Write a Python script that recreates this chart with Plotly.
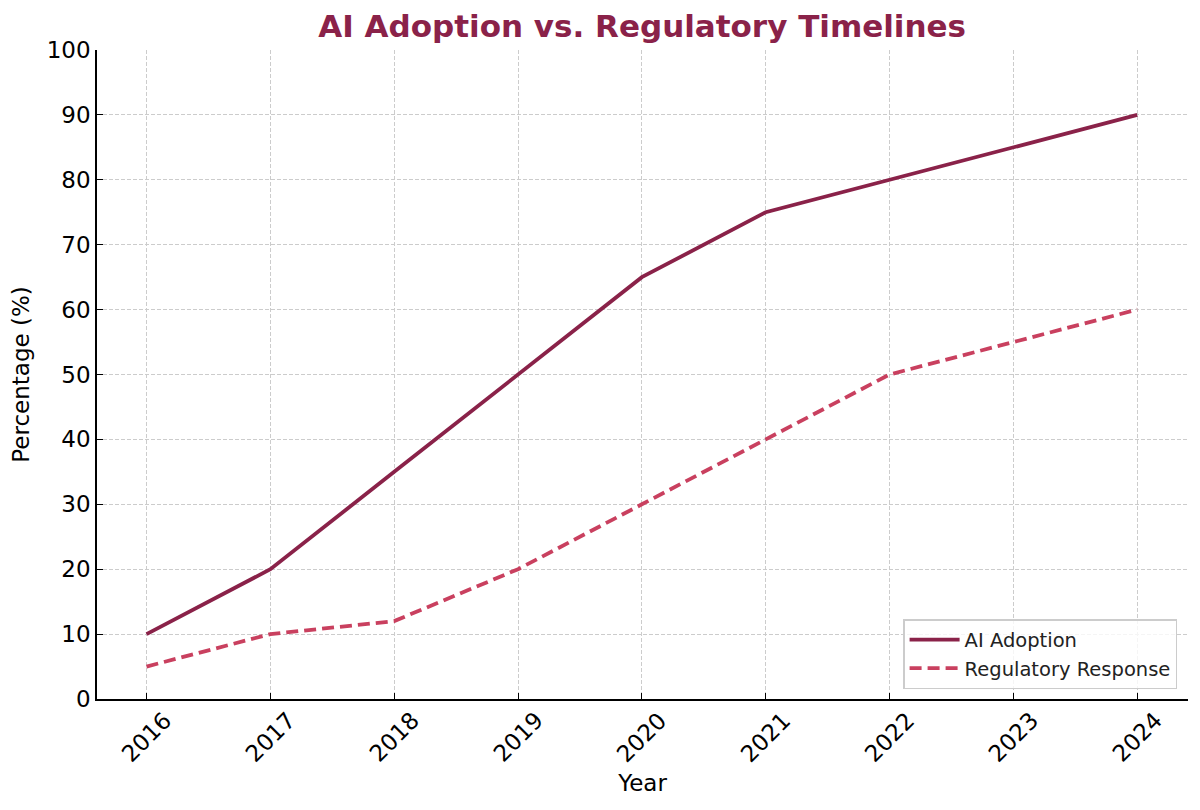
import plotly.graph_objects as go

years = [2016, 2017, 2018, 2019, 2020, 2021, 2022, 2023, 2024]
ai_adoption = [10, 20, 35, 50, 65, 75, 80, 85, 90]
regulatory_response = [5, 10, 12, 20, 30, 40, 50, 55, 60]
y_ticks = [0, 10, 20, 30, 40, 50, 60, 70, 80, 90, 100]
x_tick_labels = [str(y) for y in years]

c_ai = "#8A2249"
c_reg = "#C9405F"
font = "DejaVu Sans"

fig = go.Figure()
fig.add_trace(go.Scatter(x=years, y=ai_adoption, mode="lines", name="AI Adoption",
                         line=dict(color=c_ai, width=3.8)))
fig.add_trace(go.Scatter(x=years, y=regulatory_response, mode="lines", name="Regulatory Response",
                         line=dict(color=c_reg, width=3.8, dash="12px,6px")))

# rotated x tick labels centred on their ticks (matplotlib style)
for yr, lab in zip(years, x_tick_labels):
    fig.add_annotation(x=yr, y=0, xref="x", yref="paper", text=lab, showarrow=False,
                       textangle=-45, xanchor="center", yanchor="top", yshift=-5,
                       font=dict(size=23, color="black", family=font))

fig.update_layout(
    width=1192, height=802,
    paper_bgcolor="white", plot_bgcolor="white",
    margin=dict(l=89, r=12, t=42, b=111),
    font=dict(family=font, color="black", size=23),
    title=dict(text="<b>AI Adoption vs. Regulatory Timelines</b>", x=0.532, xanchor="center",
               y=0.977, yanchor="middle", font=dict(size=31, color="#8A2249", family=font)),
    legend=dict(x=0.99, y=0.0154, xanchor="right", yanchor="bottom",
                bgcolor="rgba(255,255,255,0.8)", bordercolor="#CCCCCC", borderwidth=1.5,
                font=dict(size=19.5, color="#222222"), itemwidth=50),
    showlegend=True,
)
fig.update_xaxes(
    title=dict(text="Year", font=dict(size=23), standoff=75),
    range=[2015.6, 2024.41], tickvals=years, showticklabels=False,
    showgrid=True, gridcolor="#CCCCCC", griddash="4px,2px", gridwidth=1,
    showline=True, linecolor="black", linewidth=1.5, ticks="inside", ticklen=6,
    tickcolor="black", zeroline=False, mirror=False,
)
fig.update_yaxes(
    title=dict(text="Percentage (%)", font=dict(size=23), standoff=12),
    range=[0, 100], tickvals=y_ticks,
    showgrid=True, gridcolor="#CCCCCC", griddash="4px,2px", gridwidth=1,
    showline=True, linecolor="black", linewidth=1.5, ticks="inside", ticklen=6,
    tickcolor="black", zeroline=False, mirror=False,
)

fig.write_html("out.html")
